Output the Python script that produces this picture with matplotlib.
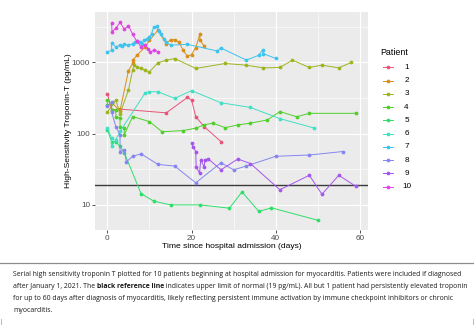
import matplotlib
matplotlib.use("Agg")
import matplotlib.pyplot as plt
from matplotlib.lines import Line2D
from matplotlib.ticker import FixedLocator, NullFormatter

# ---- data: days since admission and hs-troponin T (pg/mL) per patient ----
patients = ["1", "2", "3", "4", "5", "6", "7", "8", "9", "10"]
colors = ["#E9537A", "#D88F1A", "#9DB41E", "#4FCF2A", "#2FDD6A",
          "#3FE0C3", "#3CC3EE", "#8585F2", "#A455EC", "#E043E3"]

p1_days = [0, 1, 3, 14, 19, 20, 21, 23, 27]
p1_trop = [360, 215, 220, 195, 320, 295, 172, 125, 77]

p2_days = [1, 3, 5, 6, 6.2, 7, 9, 10, 12, 14, 15, 16, 17, 18, 19, 20, 21, 22, 22, 23]
p2_trop = [270, 210, 757, 960, 1090, 1250, 1640, 2030, 2790, 1820, 2070, 2070,
           1920, 1470, 1210, 1280, 1600, 2500, 2050, 1680]

p3_days = [0, 2, 3, 5, 6, 6.3, 7, 8, 9, 10, 12, 14, 16, 21, 28, 33, 37, 41, 44,
           48, 51, 55, 58]
p3_trop = [200, 295, 190, 407, 773, 908, 861, 816, 773, 733, 979, 1066, 1125,
           817, 959, 908, 833, 843, 1067, 843, 908, 833, 993]

p4_days = [0, 0, 1, 1, 2, 2, 3, 3, 4, 4, 6, 10, 13, 18, 21, 23, 25, 28, 31,
           34, 38, 41, 45, 48, 59]
p4_trop = [295, 250, 265, 214, 214, 173, 164, 125, 119, 96, 173, 147, 106, 110,
           119, 132, 140, 121, 132, 140, 155, 203, 172, 192, 192]

p5_days = [0, 1, 2, 3, 4, 8, 11, 15, 22, 29, 32, 36, 39, 50]
p5_trop = [113, 77, 77, 66, 54, 14.4, 11.3, 10, 10, 9.0, 15.2, 8.1, 9.1, 6.1]

p6_days = [0, 1, 1, 2, 3, 9, 10, 12, 16, 20, 27, 34, 41, 49]
p6_trop = [120, 86, 66, 82, 107, 373, 385, 385, 311, 399, 270, 232, 162, 120]

p7_days = [0, 1, 1, 2, 3, 3.5, 4, 5, 6, 6.5, 7, 7.7, 8.3, 8.6, 9.4, 10, 10.5,
           11, 11.8, 12.2, 12.8, 13.4, 14, 15, 19, 26, 27, 33, 36, 37, 37, 40]
p7_trop = [1390, 1470, 1860, 1640, 1730, 1670, 1780, 1730, 1820, 1920, 1980,
           1920, 1820, 2030, 2140, 2260, 2520, 3100, 3180, 2730, 2520, 2140,
           1920, 1730, 1780, 1440, 1580, 1070, 1250, 1500, 1320, 1130]

p8_days = [0, 1, 1, 2, 3, 3, 4, 4.5, 6, 8, 12, 16, 21, 27, 30, 33, 40, 48, 56]
p8_trop = [240, 280, 200, 125, 96, 56, 59, 40, 48, 52, 37, 35, 20.4, 39, 31,
           35, 48, 50, 56]

p9_days = [20, 20.4, 21, 21.1, 21.9, 22.2, 23, 23.2, 24, 27, 31, 34, 41, 48,
           51, 55, 59]
p9_trop = [73, 65, 56, 34, 28, 43, 34, 43, 44, 31, 44, 38, 16.3, 26, 14.1, 26,
           18.3]

p10_days = [1, 1.1, 2, 3, 4, 5, 6, 7, 8, 9, 9.7, 10.2, 11, 12]
p10_trop = [3530, 2680, 2980, 3610, 2910, 3250, 2460, 1950, 1640, 1740, 1540,
            1390, 1470, 1410]

series_days = [p1_days, p2_days, p3_days, p4_days, p5_days,
               p6_days, p7_days, p8_days, p9_days, p10_days]
series_trop = [p1_trop, p2_trop, p3_trop, p4_trop, p5_trop,
               p6_trop, p7_trop, p8_trop, p9_trop, p10_trop]

upper_limit_normal = 19

x_ticks = [0, 20, 40, 60]
x_minor = [10, 30, 50]
y_ticks = [10, 100, 1000]
y_minor = [3.162, 31.62, 316.2, 3162]

caption_lines = [
    [("Serial high sensitivity troponin T plotted for 10 patients beginning at hospital "
      "admission for myocarditis. Patients were included if diagnosed", "normal")],
    [("after January 1, 2021. The ", "normal"), ("black reference line", "bold"),
     (" indicates upper limit of normal (19 pg/mL). All but 1 patient had persistently "
      "elevated troponin", "normal")],
    [("for up to 60 days after diagnosis of myocarditis, likely reflecting persistent "
      "immune activation by immune checkpoint inhibitors or chronic", "normal")],
    [("myocarditis.", "normal")],
]

# ---- figure ----
W, H = 474, 325
plt.rcParams["font.family"] = ["Liberation Sans", "DejaVu Sans"]
fig = plt.figure(figsize=(W / 100, H / 100), dpi=100)
fig.patch.set_facecolor("white")


def fx(px):
    return px / W


def fy(py):
    return 1 - py / H


ax = fig.add_axes([fx(95), fy(230), (368 - 95) / W, (230 - 12) / H])
ax.set_facecolor("#EBEBEB")
ax.set_yscale("log")
ax.set_xlim(-2.95, 61.95)
ax.set_ylim(4.45, 5050)

ax.xaxis.set_major_locator(FixedLocator(x_ticks))
ax.xaxis.set_minor_locator(FixedLocator(x_minor))
ax.yaxis.set_major_locator(FixedLocator(y_ticks))
ax.yaxis.set_minor_locator(FixedLocator(y_minor))
ax.set_xticklabels([str(v) for v in x_ticks])
ax.set_yticklabels([str(v) for v in y_ticks])
ax.yaxis.set_minor_formatter(NullFormatter())

ax.grid(which="major", color="white", linewidth=0.8)
ax.grid(which="minor", color="white", linewidth=0.4)
ax.set_axisbelow(True)
for s in ax.spines.values():
    s.set_visible(False)
ax.tick_params(which="major", length=2.0, width=0.6, color="#333333",
               labelsize=5.9, labelcolor="#4D4D4D", pad=1.5)
ax.tick_params(which="minor", length=0)

ax.axhline(upper_limit_normal, color="#3a3a3a", linewidth=1.0, zorder=3)

for days, trop, col in zip(series_days, series_trop, colors):
    ax.plot(days, trop, color=col, linewidth=0.7, marker="o", markersize=2.7,
            markeredgewidth=0, zorder=4)

fig.text(fx(69), fy(121), "High-Sensitivity Troponin-T (pg/mL)", rotation=90,
         ha="center", va="center", fontsize=6.1, color="black")
fig.text(fx(231.5), fy(246), "Time since hospital admission (days)",
         ha="center", va="center", fontsize=6.1, color="black")

# legend
fig.text(fx(380.5), fy(52.5), "Patient", ha="left", va="center", fontsize=6.4,
         color="black")
for i, (name, col) in enumerate(zip(patients, colors)):
    y = 67.3 + i * 13.27
    fig.add_artist(Line2D([fx(382.5), fx(393)], [fy(y), fy(y)], color=col,
                          linewidth=0.7))
    fig.add_artist(Line2D([fx(387.8)], [fy(y)], color=col, marker="o",
                          markersize=2.7, markeredgewidth=0, linestyle="none"))
    fig.text(fx(406.5), fy(y), name, ha="center", va="center", fontsize=5.9,
             color="black")

# caption block
fig.add_artist(Line2D([0, 1], [fy(262.7), fy(262.7)], color="#8c8c8c",
                      linewidth=0.9))
for xe in (0.8, 473.2):
    fig.add_artist(Line2D([fx(xe), fx(xe)], [fy(319), fy(325)], color="#b0b0b0",
                          linewidth=0.6))

renderer = fig.canvas.get_renderer()
cap_family = ["Open Sans", "DejaVu Sans"]
probe = fig.text(0, 0, caption_lines[0][0][0], fontsize=10, family=cap_family)
w10 = probe.get_window_extent(renderer).width
probe.remove()
cap_size = 10 * 446 / w10

for i, runs in enumerate(caption_lines):
    y = 275 + i * 11.8
    x = 13.3
    for txt, weight in runs:
        t = fig.text(fx(x), fy(y), txt, ha="left", va="center", fontsize=cap_size,
                     fontweight=weight, family=cap_family, color="#1a1a1a")
        x += t.get_window_extent(renderer).width

fig.savefig("out.png", dpi=100)
